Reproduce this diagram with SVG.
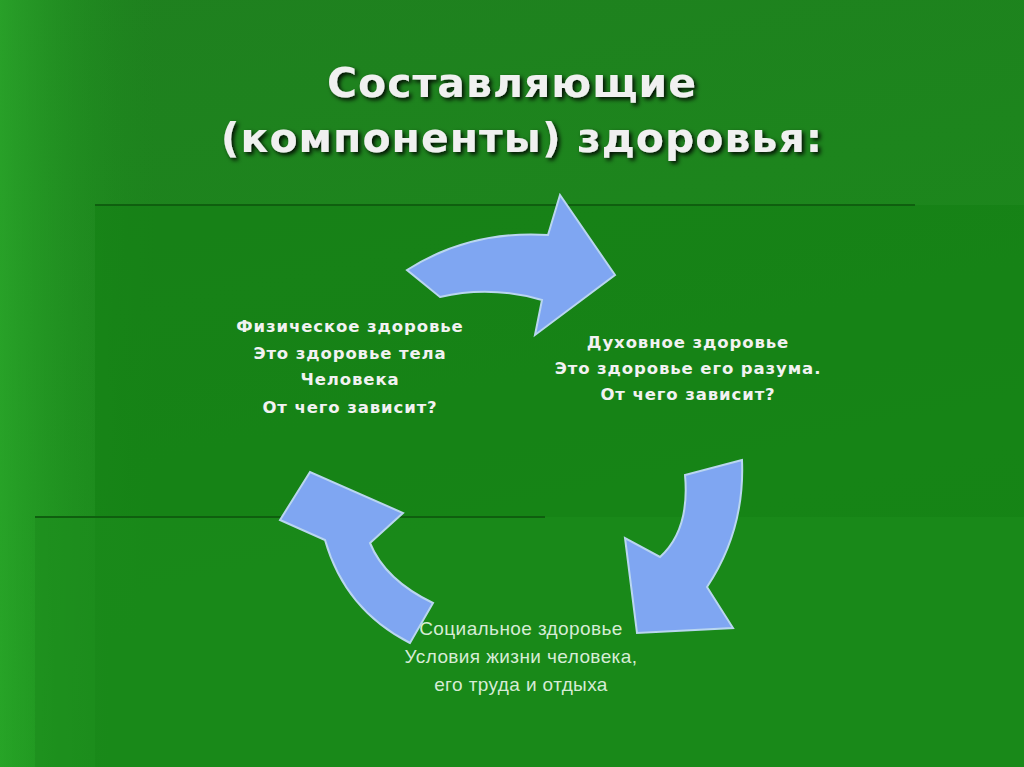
<svg xmlns="http://www.w3.org/2000/svg" width="1024" height="767" viewBox="0 0 1024 767">
<defs>
<linearGradient id="bg" x1="0" y1="0" x2="0.3" y2="1">
<stop offset="0" stop-color="#1f801f"/><stop offset="1" stop-color="#1a8c1a"/>
</linearGradient>
<linearGradient id="lb" x1="0" y1="0" x2="1" y2="0">
<stop offset="0" stop-color="#2fb52f"/><stop offset="1" stop-color="#1a8a1a" stop-opacity="0"/>
</linearGradient>
<filter id="sh"><feDropShadow dx="2.5" dy="2.5" stdDeviation="2" flood-color="#000" flood-opacity="0.9"/></filter>
<style>
.ar{fill:#7fa6f2;stroke:#b9d6f0;stroke-width:2}
.t{font-family:"DejaVu Sans",sans-serif;font-size:16.5px;letter-spacing:0.9px;fill:#f2f2f2;text-anchor:middle;font-weight:bold}
.b{font-family:"Liberation Sans",sans-serif;font-size:19px;letter-spacing:0.4px;fill:#d6ecd6;text-anchor:middle}
.h{font-family:"DejaVu Sans",sans-serif;font-size:41px;font-weight:bold;fill:#f0f0f0;text-anchor:middle;letter-spacing:1px}
</style>
</defs>
<rect width="1024" height="767" fill="url(#bg)"/>
<rect x="0" y="0" width="160" height="767" fill="url(#lb)" opacity="0.6"/>
<rect x="95" y="205" width="929" height="562" fill="#138013" opacity="0.55"/>
<rect x="35" y="517" width="989" height="250" fill="#1c8c1c" opacity="0.6"/>
<line x1="95" y1="205" x2="915" y2="205" stroke="#0f5f0f" stroke-width="2"/>
<line x1="35" y1="517" x2="545" y2="517" stroke="#0f5f0f" stroke-width="2"/>
<g filter="url(#sh)">
<text class="h" x="512" y="97">Составляющие</text>
<text class="h" x="522" y="152">(компоненты) здоровья:</text>
</g>
<g id="connectors">
<path class="ar" d="M407,270 Q470,230 548,235 L560,195 L615,275 L535,335 L542,300 Q490,285 440,297 Z"/>
<path class="ar" d="M742,460 L685,475 Q690,530 660,557 L625,538 L637,633 L733,628 L707,587 Q745,530 742,460 Z"/>
<path class="ar" d="M310,472 L280,520 L325,540 Q345,610 410,643 L433,603 Q385,580 370,543 L403,513 Z"/>
</g>
<g id="physical">
<text class="t" x="350" y="332">Физическое здоровье</text>
<text class="t" x="350" y="359">Это здоровье тела</text>
<text class="t" x="350" y="385">Человека</text>
<text class="t" x="350" y="413">От чего зависит?</text>
</g>
<g id="spiritual">
<text class="t" x="688" y="348">Духовное здоровье</text>
<text class="t" x="688" y="374">Это здоровье его разума.</text>
<text class="t" x="688" y="400">От чего зависит?</text>
</g>
<g id="social">
<text class="b" x="521" y="635">Социальное здоровье</text>
<text class="b" x="521" y="663">Условия жизни человека,</text>
<text class="b" x="521" y="691">его труда и отдыха</text>
</g>
</svg>
